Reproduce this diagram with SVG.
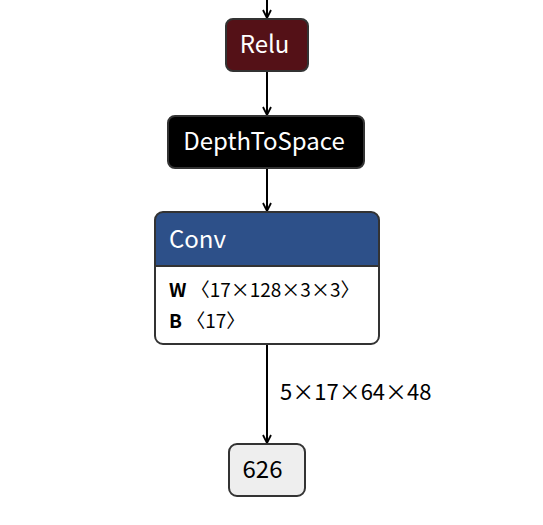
<svg xmlns="http://www.w3.org/2000/svg" width="543" height="525" viewBox="0 0 543 525">
<defs>
<marker id="arr" viewBox="0 0 10 10" refX="9" refY="5" markerWidth="10" markerHeight="10" markerUnits="userSpaceOnUse" orient="auto">
<path d="M1,1 L9,5 L1,9" fill="none" stroke="#000" stroke-width="1.8"/>
</marker>
<style>
text{font-family:"Noto Sans CJK SC","Noto Sans",sans-serif;}
.node{stroke:#333;stroke-width:2;}
.lbl{font-size:24px;fill:#fff;}
.edge{stroke:#000;stroke-width:2;fill:none;marker-end:url(#arr);}
.attr{font-size:19px;fill:#000;}
</style>
</defs>
<rect width="543" height="525" fill="#fff"/>
<g id="edges">
<path class="edge" d="M267,0 V18"/>
<path class="edge" d="M267,71 V115"/>
<path class="edge" d="M267,168 V211"/>
<path class="edge" d="M267,344 V443"/>
<text x="280" y="400" font-size="22" fill="#000">5×17×64×48</text>
</g>
<g id="relu">
<rect class="node" x="226" y="19" width="82" height="52" rx="7" fill="#541117"/>
<text class="lbl" x="264.5" y="53" text-anchor="middle">Relu</text>
</g>
<g id="depthtospace">
<rect class="node" x="168" y="116" width="196" height="52" rx="7" fill="#000"/>
<text class="lbl" x="264" y="150" text-anchor="middle">DepthToSpace</text>
</g>
<g id="conv">
<path d="M155,266 V220 a8,8 0 0 1 8,-8 H371 a8,8 0 0 1 8,8 V266 Z" fill="#2d5089"/>
<rect class="node" x="155" y="212" width="224" height="132" rx="8" fill="none"/>
<path d="M155,266 H379" class="node"/>
<text class="lbl" x="169" y="248">Conv</text>
<text class="attr" x="169" y="297"><tspan font-weight="bold">W</tspan> 〈17×128×3×3〉</text>
<text class="attr" x="169" y="328"><tspan font-weight="bold">B</tspan> 〈17〉</text>
</g>
<g id="n626">
<rect class="node" x="229" y="444" width="76" height="52" rx="8" fill="#eee"/>
<text x="262.5" y="478" font-size="24" text-anchor="middle" fill="#000">626</text>
</g>
</svg>
